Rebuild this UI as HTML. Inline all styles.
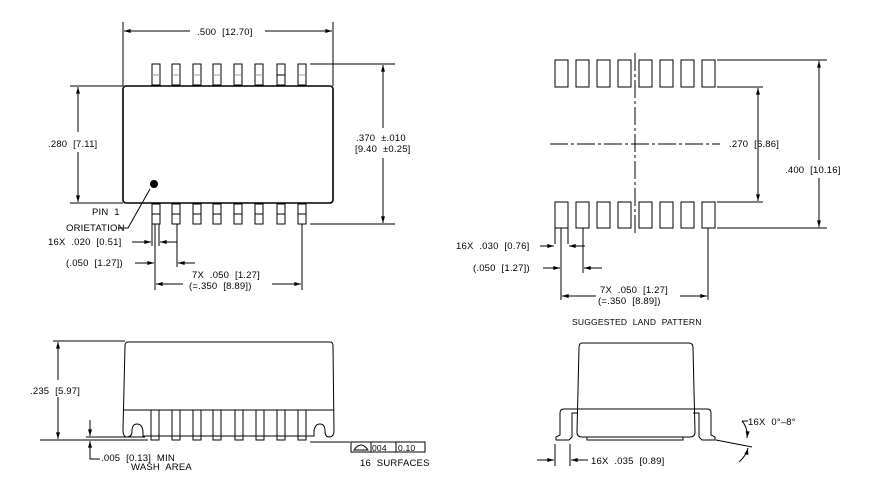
<!DOCTYPE html>
<html><head><meta charset="utf-8"><style>
html,body{margin:0;padding:0;background:#fff;}
svg{display:block;}
text{font-family:"Liberation Sans",sans-serif;font-size:9.5px;fill:#000;word-spacing:3px;letter-spacing:0.2px;}
</style></head><body>
<svg width="871" height="488" viewBox="0 0 871 488" xmlns="http://www.w3.org/2000/svg">
<defs>
<marker id="a" viewBox="0 0 10 6" refX="10" refY="3" markerWidth="8" markerHeight="4" orient="auto-start-reverse" markerUnits="userSpaceOnUse"><path d="M0,0L10,3L0,6z" fill="#000"/></marker>
</defs>
<g stroke="#000" stroke-width="1" fill="none">
<line x1="123" y1="22" x2="123" y2="86"/><line x1="333" y1="22" x2="333" y2="86"/>
<line x1="124" y1="31" x2="190" y2="31" marker-start="url(#a)"/><line x1="265" y1="31" x2="332" y2="31" marker-end="url(#a)"/>
<rect x="123" y="86" width="210" height="117" rx="3" stroke-width="1.6"/>
<g>
<rect x="152" y="64" width="8" height="21"/><rect x="172" y="64" width="8" height="21"/><rect x="193" y="64" width="8" height="21"/><rect x="213" y="64" width="8" height="21"/><rect x="234" y="64" width="8" height="21"/><rect x="255" y="64" width="8" height="21"/><rect x="277" y="64" width="8" height="21"/><rect x="298" y="64" width="8" height="21"/>
</g>
<g stroke="#999"><line x1="152" y1="75" x2="160" y2="75"/><line x1="172" y1="75" x2="180" y2="75"/><line x1="193" y1="75" x2="201" y2="75"/><line x1="213" y1="75" x2="221" y2="75"/><line x1="234" y1="75" x2="242" y2="75"/><line x1="255" y1="75" x2="263" y2="75"/><line x1="298" y1="75" x2="306" y2="75"/></g>
<line x1="277" y1="75" x2="285" y2="75"/>
<g transform="translate(0,140)">
<rect x="152" y="64" width="8" height="20"/><rect x="172" y="64" width="8" height="20"/><rect x="193" y="64" width="8" height="20"/><rect x="213" y="64" width="8" height="20"/><rect x="234" y="64" width="8" height="20"/><rect x="255" y="64" width="8" height="20"/><rect x="277" y="64" width="8" height="20"/><rect x="298" y="64" width="8" height="20"/>
<line x1="152" y1="74" x2="160" y2="74"/><line x1="172" y1="74" x2="180" y2="74"/><line x1="193" y1="74" x2="201" y2="74"/><line x1="213" y1="74" x2="221" y2="74"/><line x1="234" y1="74" x2="242" y2="74"/><line x1="255" y1="74" x2="263" y2="74"/><line x1="277" y1="74" x2="285" y2="74"/><line x1="298" y1="74" x2="306" y2="74"/>
</g>
<line x1="70" y1="86" x2="123" y2="86"/><line x1="70" y1="203" x2="123" y2="203"/>
<line x1="78" y1="87" x2="78" y2="132" marker-start="url(#a)"/><line x1="78" y1="152" x2="78" y2="202" marker-end="url(#a)"/>
<line x1="310" y1="64" x2="395" y2="64"/><line x1="310" y1="224" x2="395" y2="224"/>
<line x1="383" y1="65" x2="383" y2="128" marker-start="url(#a)"/><line x1="383" y1="158" x2="383" y2="223" marker-end="url(#a)"/>
<polyline points="118,228 128,228 150,189"/>
<line x1="152" y1="224" x2="152" y2="246"/><line x1="155" y1="224" x2="155" y2="290"/><line x1="159" y1="224" x2="159" y2="246"/><line x1="177" y1="224" x2="177" y2="267"/><line x1="302" y1="224" x2="302" y2="290"/>
<line x1="132" y1="242" x2="151" y2="242" marker-end="url(#a)"/><line x1="177" y1="242" x2="160" y2="242" marker-end="url(#a)"/>
<line x1="135" y1="263" x2="154" y2="263" marker-end="url(#a)"/><line x1="195" y1="263" x2="178" y2="263" marker-end="url(#a)"/>
<line x1="183" y1="284" x2="156" y2="284" marker-end="url(#a)"/><line x1="272" y1="284" x2="301" y2="284" marker-end="url(#a)"/>
<rect x="555" y="60" width="13" height="27"/><rect x="576" y="60" width="13" height="27"/><rect x="597" y="60" width="13" height="27"/><rect x="618" y="60" width="13" height="27"/><rect x="639" y="60" width="13" height="27"/><rect x="660" y="60" width="13" height="27"/><rect x="681" y="60" width="13" height="27"/><rect x="702" y="60" width="13" height="27"/>
<rect x="555" y="202" width="13" height="26"/><rect x="576" y="202" width="13" height="26"/><rect x="597" y="202" width="13" height="26"/><rect x="618" y="202" width="13" height="26"/><rect x="639" y="202" width="13" height="26"/><rect x="660" y="202" width="13" height="26"/><rect x="681" y="202" width="13" height="26"/><rect x="702" y="202" width="13" height="26"/>
<line x1="635" y1="53" x2="635" y2="233" stroke-dasharray="18,3,3,3"/>
<line x1="550" y1="144" x2="720" y2="144" stroke-dasharray="18,3,3,3"/>
<line x1="717" y1="60" x2="827" y2="60"/><line x1="717" y1="228" x2="827" y2="228"/>
<line x1="717" y1="87" x2="763" y2="87"/><line x1="717" y1="202" x2="763" y2="202"/>
<line x1="758" y1="88" x2="758" y2="201" marker-start="url(#a)" marker-end="url(#a)"/>
<line x1="819" y1="61" x2="819" y2="160" marker-start="url(#a)"/><line x1="819" y1="178" x2="819" y2="227" marker-end="url(#a)"/>
<line x1="555" y1="228" x2="555" y2="244"/><line x1="561" y1="228" x2="561" y2="300"/><line x1="568" y1="228" x2="568" y2="244"/><line x1="583" y1="228" x2="583" y2="273"/><line x1="708" y1="228" x2="708" y2="300"/>
<line x1="540" y1="246" x2="554" y2="246" marker-end="url(#a)"/><line x1="585" y1="246" x2="569" y2="246" marker-end="url(#a)"/>
<line x1="543" y1="268" x2="560" y2="268" marker-end="url(#a)"/><line x1="602" y1="268" x2="584" y2="268" marker-end="url(#a)"/>
<line x1="596" y1="296" x2="562" y2="296" marker-end="url(#a)"/><line x1="680" y1="296" x2="707" y2="296" marker-end="url(#a)"/>
<path d="M128,342 H330 Q333,342 333,346 L334,430 Q334,437 329,437 Q325,437 325,431 Q325,424 320,424 Q315,424 314,431 L314,436 H143 L143,431 Q142,424 137,424 Q132,424 132,431 Q132,437 127,437 Q123,437 123,430 L125,346 Q125,342 128,342 Z"/>
<line x1="123" y1="410" x2="334" y2="410"/>
<g>
<rect x="151" y="410" width="8" height="30"/><rect x="172" y="410" width="8" height="30"/><rect x="193" y="410" width="8" height="30"/><rect x="213" y="410" width="8" height="30"/><rect x="235" y="410" width="8" height="30"/><rect x="256" y="410" width="8" height="30"/><rect x="277" y="410" width="8" height="30"/><rect x="298" y="410" width="8" height="30"/>
<line x1="151" y1="436" x2="159" y2="436"/><line x1="172" y1="436" x2="180" y2="436"/><line x1="193" y1="436" x2="201" y2="436"/><line x1="213" y1="436" x2="221" y2="436"/><line x1="235" y1="436" x2="243" y2="436"/><line x1="256" y1="436" x2="264" y2="436"/><line x1="277" y1="436" x2="285" y2="436"/><line x1="298" y1="436" x2="306" y2="436"/>
</g>
<line x1="53" y1="341" x2="125" y2="341"/><line x1="40" y1="440" x2="148" y2="440"/>
<line x1="86" y1="437" x2="145" y2="437"/>
<line x1="310" y1="442" x2="350" y2="442"/>
<line x1="58" y1="342" x2="58" y2="380" marker-start="url(#a)"/><line x1="58" y1="397" x2="58" y2="439" marker-end="url(#a)"/>
<line x1="90" y1="420" x2="90" y2="436" marker-end="url(#a)"/>
<polyline points="90,441 90,459 100,459" marker-start="url(#a)"/>
<rect x="351" y="442" width="20" height="10"/><rect x="371" y="442" width="25" height="10"/><rect x="396" y="442" width="29" height="10"/>
<path d="M354,450 Q361,440 368,450 Z"/>
<path d="M582,343 H689 Q693,343 693,348 L695,432 Q695,437 690,437 H582 Q577,437 577,432 L579,348 Q579,343 582,343 Z"/>
<line x1="572" y1="409" x2="699" y2="409"/>
<path d="M578,409 H564 Q560,409 560,413 V435 L556,437 V440 H569 L572,437 V413 H578"/>
<path d="M693,409 H707 Q711,409 711,413 V435 L715,437 V440 H702 L699,437 V413 H693"/>
<rect x="587" y="437" width="96" height="3"/>
<line x1="555" y1="444" x2="555" y2="466"/><line x1="570" y1="444" x2="570" y2="466"/>
<line x1="537" y1="460" x2="554" y2="460" marker-end="url(#a)"/><line x1="588" y1="460" x2="571" y2="460" marker-end="url(#a)"/>
<line x1="716" y1="440" x2="752" y2="447"/>
<path d="M742,421 Q748,428 747,438" marker-end="url(#a)"/>
<path d="M739,462 Q746,456 748,448" marker-end="url(#a)"/>
<line x1="742" y1="421" x2="748" y2="421"/>
</g>
<circle cx="154" cy="184" r="4" fill="#000"/>
<text x="197" y="35">.500 [12.70]</text>
<text x="48" y="147">.280 [7.11]</text>
<text x="356" y="141">.370 ±.010</text>
<text x="355" y="152">[9.40 ±0.25]</text>
<text x="92" y="215">PIN 1</text>
<text x="66" y="231">ORIETATION</text>
<text x="48" y="245">16X .020 [0.51]</text>
<text x="66" y="266">(.050 [1.27])</text>
<text x="192" y="278">7X .050 [1.27]</text>
<text x="189" y="289">(=.350 [8.89])</text>
<text x="729" y="147">.270 [6.86]</text>
<text x="785" y="173">.400 [10.16]</text>
<text x="456" y="249">16X .030 [0.76]</text>
<text x="473" y="271">(.050 [1.27])</text>
<text x="600" y="293">7X .050 [1.27]</text>
<text x="598" y="304">(=.350 [8.89])</text>
<text x="572" y="325" style="font-size:8.5px">SUGGESTED LAND PATTERN</text>
<text x="30" y="394">.235 [5.97]</text>
<text x="101" y="461">.005 [0.13] MIN</text>
<text x="131" y="470">WASH AREA</text>
<text x="372" y="451" style="font-size:8.5px">004</text>
<text x="398" y="451" style="font-size:8.5px">0.10</text>
<text x="360" y="466">16 SURFACES</text>
<text x="591" y="464">16X .035 [0.89]</text>
<text x="748" y="425">16X 0°–8°</text>
</svg>
</body></html>
